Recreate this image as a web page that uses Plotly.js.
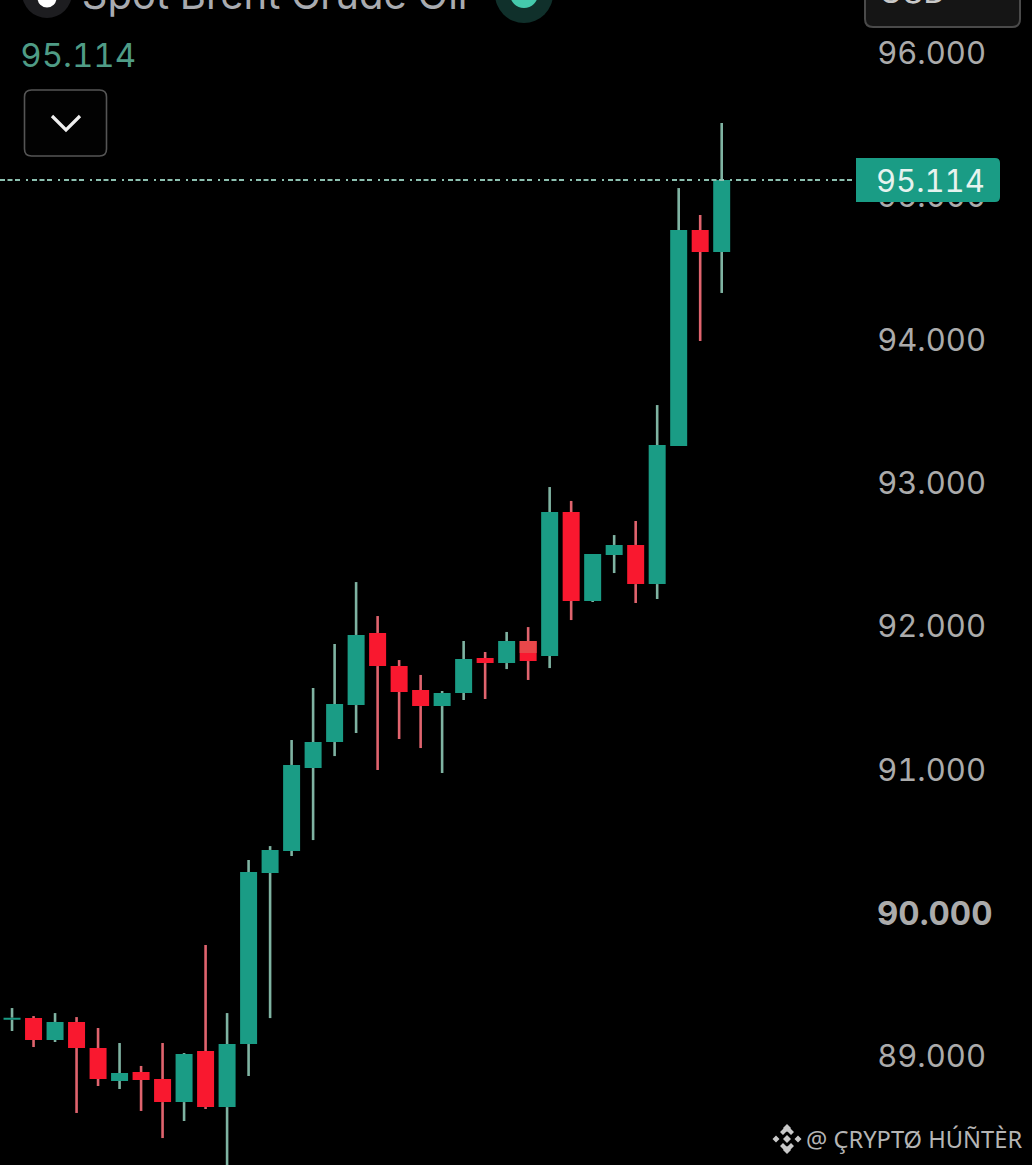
<!DOCTYPE html>
<html><head><meta charset="utf-8">
<script src="https://cdn.plot.ly/plotly-3.0.1.min.js"></script>
<style>html,body{margin:0;padding:0;background:#000;overflow:hidden}#c{width:1032px;height:1165px}#c text{font-feature-settings:"tnum" 1;font-variant-numeric:tabular-nums}</style>
</head><body><div id="c"></div>
<script>
const open_ = [89.255,89.267,89.114,89.240,89.058,88.828,88.891,88.842,88.681,89.037,88.646,89.086,90.279,90.433,91.012,91.193,91.451,91.954,91.723,91.556,91.444,91.535,91.779,91.744,91.898,91.793,92.798,92.177,92.498,92.568,92.295,93.258,94.765,94.612];
const close_ = [89.270,89.114,89.240,89.058,88.842,88.884,88.835,88.681,89.016,88.646,89.086,90.286,90.440,91.033,91.193,91.458,91.940,91.723,91.542,91.444,91.535,91.772,91.744,91.898,91.758,92.798,92.177,92.505,92.568,92.295,93.265,94.765,94.612,95.114];
const high_ = [89.337,89.281,89.302,89.274,89.198,89.093,88.933,89.093,89.023,89.777,89.302,90.370,90.467,91.207,91.570,91.877,92.309,92.072,91.765,91.661,91.549,91.898,91.821,91.961,91.995,92.972,92.875,92.505,92.637,92.735,93.544,95.058,94.870,95.512];
const low_ = [89.177,89.065,89.100,88.605,88.793,88.772,88.619,88.430,88.549,88.633,88.207,88.863,89.267,90.398,90.509,91.095,91.256,90.998,91.214,91.151,90.977,91.486,91.493,91.702,91.626,91.709,92.044,92.170,92.372,92.163,92.191,93.258,93.991,94.326];
// candle 24 carries a red overlay on its upper part in the picture
const overlayIndex = 24, overlayOpen = 91.898, overlayClose = 91.814;
const yTicks = [89,91,92,93,94,95,96];
const yTickLabels = ['89.000','91.000','92.000','93.000','94.000','95.000','96.000'];
const boldTick = 90, boldTickLabel = '90.000';
const lastPrice = 95.114;
const seriesName = 'Spot Brent Crude Oil';
const currency = 'USD';
const watermark = '@ ÇRYPTØ HÚÑTÈR';

const W=1032,H=1165;
const GREEN='#1a9c85',RED='#f9182f',WICKG='#7fb3a2',WICKR='#e0646e';
const idx=open_.map((_,i)=>i);
const px=v=>v/W, py=v=>1-v/H;
const rr=(x0,y0,x1,y1,r)=>`M${px(x0+r)},${py(y0)} L${px(x1-r)},${py(y0)} Q${px(x1)},${py(y0)} ${px(x1)},${py(y0+r)} L${px(x1)},${py(y1-r)} Q${px(x1)},${py(y1)} ${px(x1-r)},${py(y1)} L${px(x0+r)},${py(y1)} Q${px(x0)},${py(y1)} ${px(x0)},${py(y1-r)} L${px(x0)},${py(y0+r)} Q${px(x0)},${py(y0)} ${px(x0+r)},${py(y0)} Z`;
const poly=pts=>'M'+pts.map(p=>`${px(p[0])},${py(p[1])}`).join(' L');
const dia=(cx,cy,r)=>poly([[cx,cy-r],[cx+r,cy],[cx,cy+r],[cx-r,cy]])+' Z';
const circle=(cx,cy,r,fill)=>({type:'circle',xref:'paper',yref:'paper',x0:px(cx-r),x1:px(cx+r),y0:py(cy+r),y1:py(cy-r),fillcolor:fill,line:{width:0},layer:'above'});
const pathS=(d,fill,lc,lw)=>({type:'path',xref:'paper',yref:'paper',path:d,fillcolor:fill,line:{color:lc,width:lw},layer:'above'});
const text=(t,x,y,size,color,anchor,fam)=>({text:t,xref:'paper',yref:'paper',x:px(x),y:py(y),xanchor:anchor||'left',yanchor:'middle',showarrow:false,font:{family:fam||'Inter',size:size,color:color}});

// wick segments above and below each body, split by candle colour
function wickTrace(up,color){
  const xs=[],ys=[];
  idx.forEach(i=>{
    if((close_[i]>=open_[i])!==up) return;
    xs.push(i,i,null,i,i,null);
    ys.push(high_[i],Math.max(open_[i],close_[i]),null,Math.min(open_[i],close_[i]),low_[i],null);
  });
  return {type:'scatter',mode:'lines',x:xs,y:ys,line:{color:color,width:2.6},hoverinfo:'skip',showlegend:false,connectgaps:false};
}
const bodies={type:'candlestick',x:idx,open:open_,close:close_,high:high_,low:low_,whiskerwidth:0,
  increasing:{line:{color:GREEN,width:0},fillcolor:GREEN},decreasing:{line:{color:RED,width:0},fillcolor:RED},hoverinfo:'skip',showlegend:false};
const overlay={type:'candlestick',x:[overlayIndex],open:[overlayOpen],close:[overlayClose],high:[overlayOpen],low:[overlayClose],whiskerwidth:0,
  increasing:{line:{color:GREEN,width:0},fillcolor:GREEN},decreasing:{line:{color:'#e8474a',width:0},fillcolor:'#e8474a'},hoverinfo:'skip',showlegend:false};

const layout={width:W,height:H,margin:{l:0,r:0,t:0,b:0},paper_bgcolor:'#000',plot_bgcolor:'#000',showlegend:false,boxmode:'overlay',boxgap:0.21,boxgroupgap:0,
  xaxis:{range:[-0.56,47.43],visible:false,rangeslider:{visible:false},fixedrange:true},
  yaxis:{range:[88.242,96.370],side:'right',tickmode:'array',tickvals:yTicks,ticktext:yTickLabels,ticklabelposition:'inside',ticklabelstandoff:43,ticks:'',showgrid:false,zeroline:false,showline:false,
    tickfont:{family:'Inter',size:31,color:'#ababab'},fixedrange:true},
  shapes:[
    {type:'line',xref:'paper',yref:'y',x0:0,x1:px(856),y0:lastPrice,y1:lastPrice,line:{color:'#8cc0b0',width:2,dash:'5px 2.5px 5px 2.5px 5px 6px 2px 4px'},layer:'above'},
    pathS(`M${px(856)},${py(158)} L${px(995)},${py(158)} Q${px(1000)},${py(158)} ${px(1000)},${py(163)} L${px(1000)},${py(197)} Q${px(1000)},${py(202)} ${px(995)},${py(202)} L${px(856)},${py(202)} Z`,GREEN,GREEN,0),
    pathS(rr(24.5,90,106.5,156,7),'#020202','#555',1.6),
    pathS(poly([[52,116],[66,130],[80,116]]),'rgba(0,0,0,0)','#eee',3.2),
    pathS(rr(865,-30,1020,27,8),'#151515','#4a4a4a',2),
    circle(47,-7,25,'#1d1d20'),circle(47,-2,9.5,'#fff'),
    circle(524,-6,29,'#10302b'),circle(524,-6,14,'#45c9ac'),
    pathS(dia(787,1128,4)+' '+dia(787,1150,4)+' '+dia(776,1139,3.5)+' '+dia(798,1139,3.5),'#c9c9c9','#c9c9c9',0),
    pathS(poly([[780,1132],[787,1125],[794,1132],[791,1135],[787,1131],[783,1135]])+' Z','#c9c9c9','#c9c9c9',0),
    pathS(poly([[780,1146],[787,1153],[794,1146],[791,1143],[787,1147],[783,1143]])+' Z','#c9c9c9','#c9c9c9',0),
    pathS(dia(787,1139,4),'#c9c9c9','#c9c9c9',0)
  ],
  annotations:[
    text(seriesName,79,-5,40,'#a9abb0'),
    text(lastPrice.toFixed(3),29,55,33,'#4f9c86'),
    {text:'<b>'+boldTickLabel+'</b>',xref:'paper',yref:'y',x:px(997),y:boldTick,xanchor:'right',yanchor:'middle',showarrow:false,font:{family:'Inter',size:33,color:'#ababab'}},
    text(lastPrice.toFixed(3),977,181,31,'#e6f3ef','right'),
    text(currency,877,-9,32,'#c9c9c9'),
    text(watermark,804,1139,23.7,'#b5b5b5','left','Noto Sans')
  ]};
Plotly.newPlot('c',[bodies,overlay,wickTrace(true,WICKG),wickTrace(false,WICKR)],layout,{displayModeBar:false,staticPlot:true});
</script></body></html>
